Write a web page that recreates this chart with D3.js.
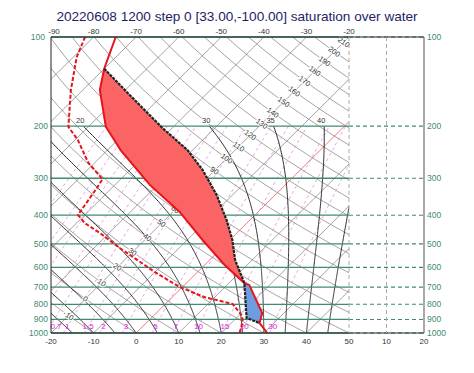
<!DOCTYPE html>
<html>
<head>
<meta charset="utf-8">
<script src="https://cdn.jsdelivr.net/npm/d3@7"></script>
<style>
  body { margin: 0; background: #fff; }
  text { font-family: "Liberation Sans", Arial, sans-serif; }
</style>
</head>
<body>
<div id="chart"></div>
<script>
// profiles (hPa, degC)
const tempP = [100, 128, 151, 201, 241, 316, 390, 485, 589, 678, 688, 856, 925, 1000];
const tempT = [-74.8, -70.0, -66.0, -55.9, -46.9, -31.8, -18.4, -6.4, 4.7, 13.6, 15.2, 24.9, 26.6, 30.8];

const dewP = [100, 117, 151, 201, 223, 266, 302, 324, 399, 425, 459, 516, 553, 622, 699, 756, 798, 876, 918, 1000];
const dewT = [-82.0, -79.2, -72.8, -64.7, -59.3, -51.5, -44.3, -43.5, -41.6, -38.1, -32.2, -24.0, -18.8, -10.1, -0.7, 7.5, 15.8, 20.9, 22.4, 24.3];

const parcelP = [128, 157, 203, 241, 281, 342, 415, 485, 567, 678, 890, 925];
const parcelT = [-70.0, -57.8, -42.3, -31.2, -23.0, -13.7, -5.5, 0.6, 6.0, 13.6, 22.4, 26.6];

// diagram grid
const pressureLevels = [100, 200, 300, 400, 500, 600, 700, 800, 900, 1000];
const bottomTicks = [-20, -10, 0, 10, 20, 30, 40, 50];
const topTicks = [-90, -80, -70, -60, -50, -40, -30, -20];
const windTicks = [10, 20];
const mixRatios = [0.1, 0.2, 0.3, 0.5, 0.7, 1, 1.5, 2, 3, 5, 7, 10, 15, 20, 30];
const mixLabels = [0.7, 1, 1.5, 2, 3, 5, 7, 10, 15, 20, 30];
const isotherms = d3.range(-160, 60, 10);
const dryAdiabats = d3.range(-40, 260, 10);
const dryLabels = d3.range(-10, 220, 10);
const satAdiabats = d3.range(-15, 50, 5);

const title = "20220608 1200 step 0 [33.00,-100.00] saturation over water";

const width = 474, height = 373;
const plotL = 51, plotR = 349, windR = 424, plotT = 37, plotB = 333;
const skew = 70;

const y = d3.scaleLog().domain([1000, 100]).range([plotB, plotT]);
const xT = d3.scaleLinear().domain([-20, 50]).range([plotL, plotR]);
const xW = d3.scaleLinear().domain([0, 20]).range([plotR, windR]);
const X = (T, p) => xT(T + skew * Math.log10(1000 / p));

const green = "#3f8c70";

const svg = d3.select("#chart").append("svg")
    .attr("width", width)
    .attr("height", height);

svg.append("clipPath").attr("id", "clip")
  .append("rect")
    .attr("x", plotL).attr("y", plotT)
    .attr("width", plotR - plotL).attr("height", plotB - plotT);

const grid = svg.append("g").attr("clip-path", "url(#clip)");

const line = d3.line().x(d => X(d.T, d.p)).y(d => y(d.p));

function pRange(p0, p1, step) {
    const out = [];
    for (let p = p0; p >= p1; p -= step) out.push(p);
    return out;
}

// isotherms
grid.selectAll(".iso")
    .data(isotherms)
    .join("path")
    .attr("d", T => line([{T: T, p: 1000}, {T: T, p: 100}]))
    .attr("fill", "none")
    .attr("stroke", T => T === 0 ? "#f04040" : "#7c7c7c")
    .attr("stroke-width", 0.7);

// dry adiabats
const theta = (th, p) => (th + 273.15) * Math.pow(p / 1000, 0.2857) - 273.15;
grid.selectAll(".dry")
    .data(dryAdiabats)
    .join("path")
    .attr("d", th => line(pRange(1000, 100, 10).map(p => ({T: theta(th, p), p: p}))))
    .attr("fill", "none")
    .attr("stroke", "#7c7c7c")
    .attr("stroke-width", 0.7);

// mixing ratio lines
function dewFromMix(w, p) {
    const e = w * p / (622 + w);
    const a = Math.log(e / 6.112);
    return 243.5 * a / (17.67 - a);
}
grid.selectAll(".mix")
    .data(mixRatios)
    .join("path")
    .attr("d", w => line(pRange(1000, 200, 20).map(p => ({T: dewFromMix(w, p), p: p}))))
    .attr("fill", "none")
    .attr("stroke", "#e58ae5")
    .attr("stroke-width", 0.8)
    .attr("stroke-dasharray", "3,3");

// saturated adiabats
function satLapse(p, Tk) {
    const Rd = 287.04, cp = 1005.7, Lv = 2.501e6, eps = 0.622;
    const es = 6.112 * Math.exp(17.67 * (Tk - 273.15) / (Tk - 29.65));
    const rs = eps * es / (p - es);
    return ((Rd * Tk + Lv * rs) / p) / (cp + Lv * Lv * rs * eps / (Rd * Tk * Tk));
}
function satCurve(tw) {
    let Tk = tw + 273.15, p = 1000;
    const dp = -5, pts = [{T: tw, p: p}];
    while (p > 200) {
        const k1 = satLapse(p, Tk);
        const k2 = satLapse(p + dp / 2, Tk + k1 * dp / 2);
        const k3 = satLapse(p + dp / 2, Tk + k2 * dp / 2);
        const k4 = satLapse(p + dp, Tk + k3 * dp);
        Tk += dp * (k1 + 2 * k2 + 2 * k3 + k4) / 6;
        p += dp;
        pts.push({T: Tk - 273.15, p: p});
    }
    return pts;
}
const satData = satAdiabats.map(tw => ({tw: tw, pts: satCurve(tw)}));
grid.selectAll(".sat")
    .data(satData)
    .join("path")
    .attr("d", d => line(d.pts))
    .attr("fill", "none")
    .attr("stroke", "#1a1a1a")
    .attr("stroke-width", 0.9);

// pressure lines: solid over the diagram, dashed over the wind column
svg.selectAll(".plev")
    .data(pressureLevels)
    .join("line")
    .attr("x1", plotL).attr("x2", plotR)
    .attr("y1", p => y(p)).attr("y2", p => y(p))
    .attr("stroke", green)
    .attr("stroke-width", 1.3);
svg.selectAll(".plevw")
    .data(pressureLevels)
    .join("line")
    .attr("x1", plotR).attr("x2", windR)
    .attr("y1", p => y(p)).attr("y2", p => y(p))
    .attr("stroke", green)
    .attr("stroke-width", 1.1)
    .attr("stroke-dasharray", "4,3");

// labels on the grid
const labels = svg.append("g")
    .attr("font-size", 7.5)
    .attr("fill", "#333");

const angle = Math.atan2(295.9, 0.6585 * 253.15 * 4.27 - skew * 4.27) * 180 / Math.PI;
labels.selectAll(".dryl")
    .data(dryLabels)
    .join("text")
    .attr("transform", th => {
        const p = 1000 * Math.pow(253.15 / (th + 273.15), 1 / 0.2857);
        return `translate(${X(-20, p)},${y(p)}) rotate(${angle})`;
    })
    .attr("text-anchor", "middle")
    .attr("dy", "0.35em")
    .attr("stroke", "#fff").attr("stroke-width", 2).attr("paint-order", "stroke")
    .text(th => th);

labels.selectAll(".satl")
    .data(satData.filter(d => {
        const xe = X(d.pts[d.pts.length - 1].T, 200);
        return xe > plotL + 8 && xe < plotR - 5;
    }))
    .join("text")
    .attr("x", d => X(d.pts[d.pts.length - 1].T, 200) - 3)
    .attr("y", y(200) - 3)
    .attr("text-anchor", "middle")
    .attr("stroke", "#fff").attr("stroke-width", 2).attr("paint-order", "stroke")
    .text(d => d.tw);

svg.append("g")
    .attr("font-size", 8)
    .attr("fill", "#e020e0")
  .selectAll("text")
    .data(mixLabels)
    .join("text")
    .attr("x", w => Math.max(X(dewFromMix(w, 950), 950), plotL + 5))
    .attr("y", y(950))
    .attr("dy", "0.35em")
    .attr("text-anchor", "middle")
    .text(w => w);

// CAPE / CIN areas between parcel and environment
const tempPts = tempP.map((p, i) => ({p: p, T: tempT[i]}));
const dewPts = dewP.map((p, i) => ({p: p, T: dewT[i]}));
const parcelPts = parcelP.map((p, i) => ({p: p, T: parcelT[i]}));

function area(pTop, pBot) {
    const a = parcelPts.filter(d => d.p >= pTop && d.p <= pBot);
    const b = tempPts.filter(d => d.p >= pTop && d.p <= pBot).reverse();
    return line(a.concat(b)) + "Z";
}
svg.append("path")
    .attr("d", area(128, 678))
    .attr("fill", "#fa6464");
svg.append("path")
    .attr("d", area(678, 925))
    .attr("fill", "#6f9be0");

// profiles
svg.append("path")
    .attr("d", line(dewPts))
    .attr("fill", "none")
    .attr("stroke", "#e8141c")
    .attr("stroke-width", 2)
    .attr("stroke-dasharray", "4,2");
svg.append("path")
    .attr("d", line(tempPts))
    .attr("fill", "none")
    .attr("stroke", "#e8141c")
    .attr("stroke-width", 2);
svg.append("path")
    .attr("d", line(parcelPts))
    .attr("fill", "none")
    .attr("stroke", "#222")
    .attr("stroke-width", 2.2)
    .attr("stroke-dasharray", "3,1");

// frame
svg.append("line")
    .attr("x1", plotL).attr("x2", plotL).attr("y1", plotT).attr("y2", plotB)
    .attr("stroke", "#222").attr("stroke-width", 1);
svg.append("line")
    .attr("x1", windR).attr("x2", windR).attr("y1", plotT).attr("y2", plotB)
    .attr("stroke", "#555").attr("stroke-width", 1);
[plotT, plotB].forEach(yy => {
    svg.append("line")
        .attr("x1", plotL).attr("x2", windR).attr("y1", yy).attr("y2", yy)
        .attr("stroke", "#222").attr("stroke-width", 1);
});
svg.selectAll(".wv")
    .data([0, 10])
    .join("line")
    .attr("x1", d => xW(d)).attr("x2", d => xW(d))
    .attr("y1", plotT).attr("y2", plotB)
    .attr("stroke", "#aaa")
    .attr("stroke-width", 1)
    .attr("stroke-dasharray", "4,3");

// axis labels
const axisText = svg.append("g").attr("font-size", 8).attr("fill", "#333").attr("text-anchor", "middle");
axisText.selectAll(".bt")
    .data(bottomTicks)
    .join("text")
    .attr("x", T => xT(T)).attr("y", plotB + 11)
    .text(T => T);
axisText.selectAll(".wt")
    .data(windTicks)
    .join("text")
    .attr("x", v => xW(v)).attr("y", plotB + 11)
    .text(v => v);
axisText.selectAll(".tt")
    .data(topTicks)
    .join("text")
    .attr("x", T => X(T, 100) + (T === -90 ? 3 : 0)).attr("y", plotT - 3)
    .text(T => T);

const pText = svg.append("g").attr("font-size", 8.5).attr("fill", green);
pText.selectAll(".pl")
    .data(pressureLevels)
    .join("text")
    .attr("x", p => plotL - (p === 100 ? 6 : 3)).attr("y", p => y(p))
    .attr("dy", "0.35em")
    .attr("text-anchor", "end")
    .text(p => p);
pText.selectAll(".pr")
    .data(pressureLevels)
    .join("text")
    .attr("x", windR + 3).attr("y", p => y(p))
    .attr("dy", "0.35em")
    .text(p => p);

svg.append("text")
    .attr("x", 237).attr("y", 21)
    .attr("text-anchor", "middle")
    .attr("font-size", 13.6)
    .attr("fill", "#1e1e66")
    .text(title);
</script>
</body>
</html>
